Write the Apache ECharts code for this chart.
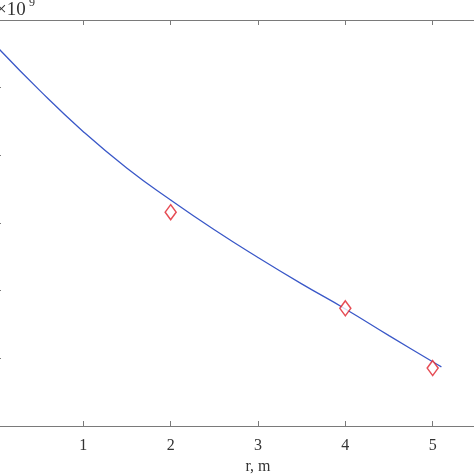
<!DOCTYPE html>
<html lang="en">
<head>
    <meta charset="UTF-8">
    <title>r, m</title>
    <style>
        html, body { margin: 0; padding: 0; background: #fff; }
        #chart { width: 474px; height: 474px; }
    </style>
</head>
<body>
    <div id="chart"></div>
    <script src="https://cdn.jsdelivr.net/npm/echarts@6/dist/echarts.min.js"></script>
    <script>
        // model curve (values in units of 1e9)
        const curveR = [0, 0.5, 1, 1.5, 2, 2.5, 3, 3.5, 4, 4.5, 5, 5.1]
        const curveV = [2.81, 2.48, 2.175, 1.905, 1.67, 1.45, 1.245, 1.05, 0.865, 0.668, 0.475, 0.437]
        // measured points (diamonds)
        const measR = [2, 4, 5]
        const measV = [1.58, 0.87, 0.428]
        const xTicks = [1, 2, 3, 4, 5]

        const font = 'Liberation Serif, Times New Roman, serif'
        const axisGrey = '#7a7a7a'

        const myChart = echarts.init(document.getElementById('chart'))

        const option = {
            animation: false,
            grid: {
                left: -4, right: -46, top: 20, bottom: 48,
                containLabel: false, outerBoundsMode: 'none'
            },
            xAxis: [{
                type: 'value', min: 0, max: 6, interval: 1,
                position: 'bottom',
                name: 'r, m', nameLocation: 'middle', nameGap: 26,
                nameTextStyle: { fontFamily: font, fontSize: 16, color: '#333' },
                axisLine: { lineStyle: { color: axisGrey, width: 1 } },
                axisTick: { inside: true, length: 5, lineStyle: { color: axisGrey } },
                axisLabel: {
                    fontFamily: font, fontSize: 16, color: '#333', margin: 12,
                    formatter: v => xTicks.includes(v) ? String(v) : ''
                },
                splitLine: { show: false }
            }, {
                type: 'value', min: 0, max: 6, interval: 1,
                position: 'top',
                axisLine: { lineStyle: { color: axisGrey, width: 1 } },
                axisTick: { inside: true, length: 5, lineStyle: { color: axisGrey } },
                axisLabel: { show: false },
                splitLine: { show: false }
            }],
            yAxis: {
                type: 'value', min: 0, max: 3, interval: 0.5,
                axisLine: { show: true, lineStyle: { color: axisGrey } },
                axisTick: { inside: true, length: 5, lineStyle: { color: axisGrey } },
                axisLabel: { show: false },
                splitLine: { show: false }
            },
            graphic: [{
                type: 'text', x: -4, y: 1,
                style: { text: '×10', font: '19px ' + font, fill: '#333' }
            }, {
                type: 'text', x: 29, y: -3,
                style: { text: '9', font: '12px ' + font, fill: '#333' }
            }],
            series: [{
                type: 'line',
                data: curveR.map((r, i) => [r, curveV[i]]),
                smooth: true,
                showSymbol: false,
                lineStyle: { color: '#3a58c8', width: 1.3 },
                z: 2
            }, {
                type: 'scatter',
                data: measR.map((r, i) => [r, measV[i]]),
                symbol: 'diamond',
                symbolSize: [11, 15],
                itemStyle: { color: '#fff', borderColor: '#e0202a', borderWidth: 1.5 },
                z: 3
            }]
        }

        myChart.setOption(option)
    </script>
</body>
</html>
